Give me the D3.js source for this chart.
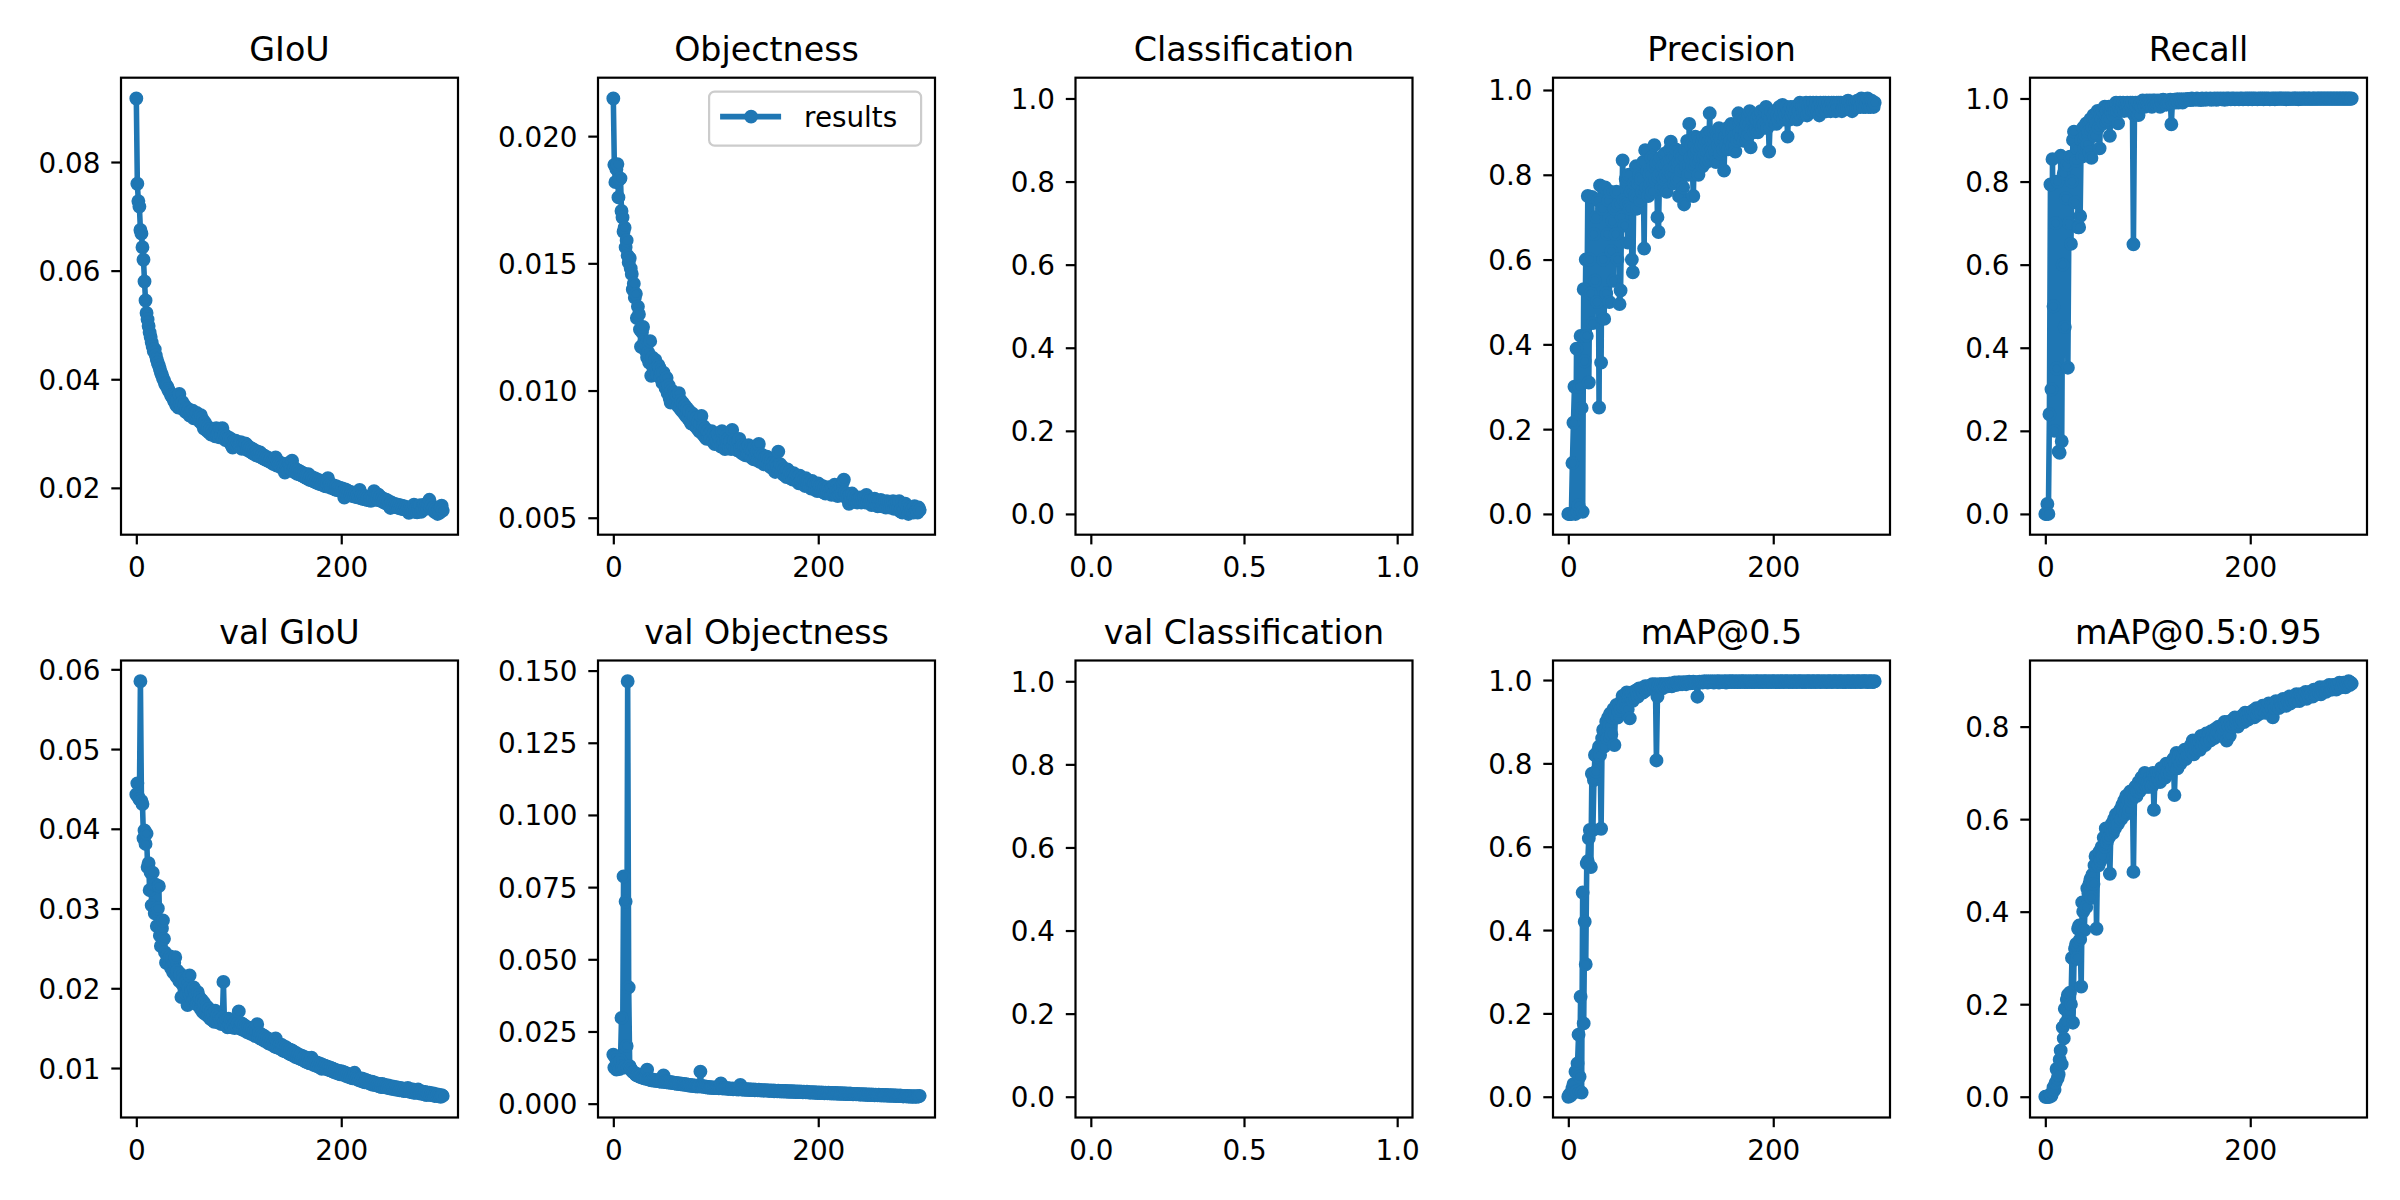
<!DOCTYPE html>
<html>
<head>
<meta charset="utf-8">
<script src="https://cdn.jsdelivr.net/npm/d3@7"></script>
<style>
  body { margin: 0; background: #fff; }
  text { font-family: "DejaVu Sans", sans-serif; }
</style>
</head>
<body>
<svg id="chart" width="2400" height="1200"></svg>
<script>
'use strict';

// panel titles, row by row
const titles = ['GIoU', 'Objectness', 'Classification', 'Precision', 'Recall',
    'val GIoU', 'val Objectness', 'val Classification', 'mAP@0.5', 'mAP@0.5:0.95'];

// tick labels
const epochTicks = [0, 200];
const emptyTicks = [0, 0.5, 1.0];
const giouTicks = [0.02, 0.04, 0.06, 0.08];
const objTicks = [0.005, 0.010, 0.015, 0.020];
const unitTicks = [0, 0.2, 0.4, 0.6, 0.8, 1.0];
const valGiouTicks = [0.01, 0.02, 0.03, 0.04, 0.05, 0.06];
const valObjTicks = [0, 0.025, 0.05, 0.075, 0.1, 0.125, 0.15];
const map95Ticks = [0, 0.2, 0.4, 0.6, 0.8];

// series, one value per epoch (0..299)
const giou = [
0.0917,0.0760,0.0728,0.0718,0.0675,0.0668,0.0643,0.0620,0.0580,0.0545,
0.0522,0.0510,0.0498,0.0486,0.0478,0.0468,0.0460,0.0452,0.0455,0.0444,
0.0436,0.0430,0.0425,0.0419,0.0412,0.0408,0.0402,0.0398,0.0392,0.0389,
0.0387,0.0382,0.0378,0.0375,0.0370,0.0368,0.0364,0.0360,0.0357,0.0352,
0.0362,0.0348,0.0373,0.0355,0.0350,0.0358,0.0344,0.0352,0.0340,0.0346,
0.0338,0.0345,0.0333,0.0340,0.0334,0.0342,0.0328,0.0336,0.0330,0.0338,
0.0326,0.0331,0.0322,0.0334,0.0318,0.0325,0.0309,0.0320,0.0314,0.0305,
0.0312,0.0302,0.0308,0.0298,0.0306,0.0300,0.0302,0.0295,0.0310,0.0297,
0.0301,0.0293,0.0309,0.0296,0.0310,0.0292,0.0298,0.0288,0.0295,0.0290,
0.0286,0.0292,0.0281,0.0289,0.0274,0.0285,0.0280,0.0287,0.0278,0.0283,
0.0279,0.0276,0.0284,0.0272,0.0280,0.0275,0.0282,0.0281,0.0270,0.0277,
0.0268,0.0274,0.0266,0.0272,0.0263,0.0270,0.0264,0.0260,0.0267,0.0262,
0.0258,0.0265,0.0256,0.0261,0.0254,0.0259,0.0252,0.0257,0.0250,0.0255,
0.0249,0.0253,0.0246,0.0251,0.0244,0.0250,0.0256,0.0241,0.0248,0.0243,
0.0247,0.0238,0.0245,0.0240,0.0236,0.0228,0.0243,0.0237,0.0232,0.0246,
0.0241,0.0235,0.0250,0.0231,0.0237,0.0228,0.0234,0.0226,0.0232,0.0225,
0.0230,0.0223,0.0228,0.0221,0.0226,0.0219,0.0224,0.0217,0.0225,0.0215,
0.0221,0.0214,0.0219,0.0212,0.0218,0.0210,0.0216,0.0209,0.0214,0.0207,
0.0213,0.0206,0.0211,0.0204,0.0210,0.0203,0.0209,0.0218,0.0202,0.0207,
0.0200,0.0206,0.0199,0.0204,0.0197,0.0203,0.0196,0.0201,0.0195,0.0200,
0.0194,0.0199,0.0192,0.0182,0.0197,0.0190,0.0195,0.0188,0.0193,0.0187,
0.0192,0.0185,0.0190,0.0184,0.0189,0.0183,0.0188,0.0182,0.0196,0.0181,
0.0186,0.0180,0.0185,0.0179,0.0184,0.0178,0.0183,0.0177,0.0182,0.0176,
0.0185,0.0179,0.0194,0.0178,0.0186,0.0180,0.0188,0.0177,0.0184,0.0176,
0.0181,0.0174,0.0179,0.0172,0.0178,0.0170,0.0176,0.0169,0.0163,0.0173,
0.0166,0.0171,0.0165,0.0170,0.0164,0.0169,0.0163,0.0168,0.0162,0.0167,
0.0161,0.0166,0.0160,0.0165,0.0159,0.0164,0.0154,0.0163,0.0158,0.0162,
0.0157,0.0169,0.0156,0.0163,0.0155,0.0162,0.0157,0.0168,0.0156,0.0161,
0.0160,0.0169,0.0163,0.0167,0.0162,0.0170,0.0178,0.0164,0.0168,0.0160,
0.0163,0.0156,0.0161,0.0155,0.0152,0.0160,0.0154,0.0165,0.0167,0.0158];

const objectness = [
0.02148,0.01887,0.01819,0.01870,0.01890,0.01759,0.01830,0.01834,0.01706,0.01680,
0.01624,0.01640,0.01563,0.01590,0.01530,0.01503,0.01520,0.01480,0.01458,0.01397,
0.01420,0.01365,0.01380,0.01285,0.01330,0.01300,0.01240,0.01172,0.01230,0.01250,
0.01190,0.01160,0.01185,0.01130,0.01150,0.01110,0.01194,0.01058,0.01130,0.01090,
0.01080,0.01120,0.01090,0.01060,0.01100,0.01090,0.01050,0.01070,0.01030,0.01070,
0.01040,0.01010,0.01050,0.00990,0.01020,0.00970,0.00953,0.01000,0.00980,0.00960,
0.00990,0.00950,0.00980,0.00940,0.00990,0.00930,0.00960,0.00920,0.00950,0.00910,
0.00940,0.00900,0.00930,0.00890,0.00920,0.00880,0.00870,0.00910,0.00870,0.00900,
0.00860,0.00890,0.00850,0.00880,0.00840,0.00870,0.00900,0.00830,0.00860,0.00820,
0.00850,0.00810,0.00840,0.00817,0.00830,0.00810,0.00840,0.00800,0.00830,0.00790,
0.00820,0.00800,0.00830,0.00790,0.00810,0.00780,0.00840,0.00790,0.00800,0.00770,
0.00820,0.00790,0.00810,0.00775,0.00800,0.00770,0.00845,0.00785,0.00805,0.00775,
0.00795,0.00765,0.00800,0.00810,0.00775,0.00755,0.00785,0.00750,0.00780,0.00745,
0.00775,0.00750,0.00785,0.00745,0.00770,0.00735,0.00765,0.00730,0.00780,0.00745,
0.00760,0.00725,0.00790,0.00720,0.00750,0.00730,0.00745,0.00710,0.00735,0.00720,
0.00740,0.00710,0.00730,0.00700,0.00725,0.00695,0.00715,0.00700,0.00680,0.00715,
0.00700,0.00760,0.00690,0.00710,0.00680,0.00700,0.00670,0.00690,0.00680,0.00660,
0.00690,0.00665,0.00680,0.00655,0.00670,0.00650,0.00675,0.00655,0.00665,0.00645,
0.00660,0.00635,0.00665,0.00645,0.00655,0.00635,0.00650,0.00625,0.00655,0.00635,
0.00645,0.00625,0.00640,0.00615,0.00645,0.00625,0.00635,0.00610,0.00630,0.00605,
0.00635,0.00610,0.00625,0.00605,0.00625,0.00600,0.00620,0.00595,0.00615,0.00600,
0.00620,0.00595,0.00610,0.00590,0.00615,0.00595,0.00630,0.00590,0.00605,0.00585,
0.00610,0.00590,0.00620,0.00595,0.00640,0.00650,0.00600,0.00580,0.00595,0.00575,
0.00555,0.00590,0.00575,0.00595,0.00570,0.00585,0.00565,0.00580,0.00560,0.00575,
0.00565,0.00580,0.00560,0.00575,0.00565,0.00580,0.00560,0.00590,0.00565,0.00575,
0.00560,0.00570,0.00550,0.00570,0.00555,0.00575,0.00550,0.00565,0.00545,0.00565,
0.00550,0.00570,0.00545,0.00565,0.00545,0.00560,0.00540,0.00565,0.00545,0.00560,
0.00540,0.00560,0.00545,0.00565,0.00535,0.00555,0.00540,0.00560,0.00535,0.00565,
0.00525,0.00535,0.00520,0.00540,0.00530,0.00555,0.00520,0.00535,0.00515,0.00530,
0.00540,0.00525,0.00535,0.00520,0.00545,0.00525,0.00530,0.00520,0.00540,0.00530];

const precision = [
0,0,0,0,0.12,0.215,0.30,0.0,0.39,0.005,
0.02,0.30,0.42,0.25,0.005,0.53,0.36,0.60,0.42,0.75,
0.31,0.60,0.52,0.748,0.45,0.66,0.55,0.70,0.50,0.74,
0.251,0.775,0.357,0.72,0.60,0.46,0.77,0.52,0.66,0.74,
0.50,0.76,0.62,0.69,0.55,0.72,0.66,0.76,0.60,0.73,
0.495,0.527,0.70,0.834,0.74,0.68,0.79,0.73,0.64,0.80,
0.72,0.76,0.60,0.57,0.78,0.75,0.82,0.72,0.78,0.80,
0.74,0.79,0.76,0.83,0.626,0.858,0.77,0.81,0.75,0.80,
0.78,0.84,0.76,0.82,0.87,0.79,0.83,0.70,0.665,0.80,
0.84,0.77,0.82,0.79,0.85,0.80,0.76,0.83,0.81,0.86,
0.878,0.80,0.84,0.78,0.82,0.86,0.79,0.83,0.75,0.85,
0.81,0.84,0.77,0.73,0.86,0.82,0.88,0.80,0.92,0.84,
0.87,0.82,0.75,0.85,0.89,0.83,0.86,0.80,0.88,0.84,
0.87,0.82,0.89,0.85,0.88,0.83,0.90,0.86,0.945,0.84,
0.88,0.85,0.90,0.86,0.83,0.89,0.87,0.91,0.85,0.88,
0.90,0.86,0.81,0.89,0.87,0.91,0.86,0.90,0.88,0.92,
0.87,0.91,0.89,0.855,0.92,0.88,0.945,0.90,0.93,0.89,
0.91,0.88,0.93,0.90,0.92,0.89,0.94,0.95,0.865,0.91,
0.93,0.90,0.94,0.91,0.93,0.90,0.94,0.92,0.95,0.91,
0.93,0.92,0.95,0.96,0.91,0.94,0.855,0.93,0.95,0.92,
0.94,0.93,0.95,0.92,0.94,0.93,0.96,0.94,0.95,0.965,
0.93,0.95,0.94,0.96,0.89,0.95,0.93,0.96,0.94,0.95,
0.96,0.94,0.95,0.93,0.96,0.95,0.97,0.94,0.96,0.95,
0.96,0.95,0.97,0.94,0.96,0.95,0.97,0.96,0.95,0.97,
0.95,0.96,0.97,0.95,0.96,0.94,0.97,0.96,0.95,0.97,
0.96,0.97,0.95,0.96,0.97,0.96,0.95,0.97,0.96,0.97,
0.96,0.95,0.97,0.96,0.97,0.96,0.97,0.95,0.96,0.97,
0.96,0.97,0.96,0.975,0.96,0.97,0.96,0.95,0.97,0.96,
0.97,0.96,0.975,0.96,0.97,0.96,0.98,0.97,0.96,0.975,
0.96,0.97,0.98,0.96,0.97,0.96,0.975,0.97,0.96,0.97];

const recall = [
0,0,0.024,0,0.24,0.793,0.30,0.854,0.50,0.20,
0.70,0.35,0.80,0.15,0.147,0.862,0.175,0.60,0.82,0.45,
0.76,0.84,0.352,0.70,0.86,0.65,0.80,0.90,0.92,0.75,
0.85,0.88,0.69,0.69,0.717,0.90,0.86,0.93,0.88,0.91,
0.94,0.89,0.92,0.87,0.95,0.857,0.93,0.96,0.91,0.95,
0.94,0.97,0.93,0.88,0.96,0.95,0.97,0.94,0.98,0.96,
0.97,0.95,0.98,0.91,0.97,0.98,0.96,0.98,0.97,0.99,
0.97,0.94,0.98,0.99,0.97,0.98,0.99,0.97,0.985,0.98,
0.99,0.98,0.97,0.99,0.98,0.99,0.649,0.96,0.99,0.98,
0.99,0.96,0.985,0.99,0.98,0.995,0.99,0.98,0.99,0.995,
0.99,0.985,0.995,0.99,0.98,0.995,0.99,0.995,0.985,0.99,
0.995,0.99,0.98,0.995,0.99,0.997,0.99,0.995,0.985,0.99,
0.995,0.99,0.997,0.938,0.99,0.995,0.997,0.99,0.995,0.998,
0.99,0.997,0.995,0.998,0.99,0.997,0.995,0.998,0.996,0.999,
0.997,0.999,0.996,1.0,0.998,0.997,0.999,0.998,1.0,0.997,
0.999,0.998,0.996,1.0,0.998,0.999,0.997,1.0,0.998,0.999,
0.998,1.0,0.997,0.999,0.998,1.0,0.999,0.997,1.0,0.998,
0.999,1.0,0.998,0.999,1.0,0.997,0.999,1.0,0.998,1.0,
0.999,0.998,1.0,0.999,1.0,0.998,0.999,1.0,0.999,0.998,
1.0,0.999,1.0,0.998,0.999,1.0,0.999,1.0,0.998,1.0,
0.999,1.0,0.998,1.0,0.999,1.0,0.999,0.998,1.0,0.999,
1.0,0.999,1.0,0.998,1.0,0.999,1.0,0.999,1.0,0.998,
0.999,1.0,0.999,1.0,0.998,1.0,0.999,1.0,0.999,1.0,
1.0,0.999,1.0,0.999,1.0,0.998,1.0,0.999,1.0,0.999,
0.999,1.0,0.999,1.0,1.0,0.999,1.0,0.998,1.0,0.999,
1.0,0.999,1.0,1.0,0.999,1.0,0.999,1.0,1.0,0.999,
0.999,1.0,1.0,0.999,1.0,0.999,1.0,1.0,0.999,1.0,
1.0,0.999,1.0,1.0,0.999,1.0,1.0,0.999,1.0,1.0,
0.999,1.0,1.0,0.999,1.0,1.0,0.999,1.0,1.0,0.999,
1.0,1.0,0.999,1.0,1.0,0.999,1.0,1.0,0.999,1.0];

const valGiou = [
0.0443,0.0457,0.0440,0.0437,0.0585,0.0435,0.0431,0.0388,0.0398,0.0381,
0.0394,0.0352,0.0357,0.0323,0.0345,0.0304,0.0345,0.0330,0.0294,0.0330,
0.0278,0.0300,0.0328,0.0266,0.0253,0.0275,0.0285,0.0262,0.0245,0.0232,
0.0241,0.0236,0.0230,0.0240,0.0225,0.0238,0.0220,0.0232,0.0239,0.0215,
0.0222,0.0212,0.0209,0.0218,0.0189,0.0205,0.0212,0.0198,0.0207,0.0192,
0.0179,0.0200,0.0216,0.0190,0.0196,0.0184,0.0201,0.0186,0.0193,0.0180,
0.0195,0.0178,0.0188,0.0174,0.0185,0.0170,0.0182,0.0168,0.0171,0.0177,
0.0165,0.0174,0.0162,0.0170,0.0160,0.0168,0.0158,0.0172,0.0161,0.0166,
0.0157,0.0164,0.0160,0.0155,0.0163,0.0208,0.0158,0.0154,0.0161,0.0151,
0.0162,0.0154,0.0160,0.0151,0.0159,0.0155,0.0150,0.0158,0.0152,0.0156,
0.0171,0.0150,0.0149,0.0156,0.0148,0.0154,0.0147,0.0152,0.0145,0.0151,
0.0144,0.0150,0.0143,0.0149,0.0142,0.0147,0.0140,0.0146,0.0155,0.0139,
0.0144,0.0137,0.0142,0.0136,0.0141,0.0134,0.0139,0.0133,0.0137,0.0131,
0.0136,0.0130,0.0135,0.0129,0.0133,0.0127,0.0137,0.0126,0.0131,0.0125,
0.0130,0.0124,0.0129,0.0122,0.0127,0.0121,0.0126,0.0120,0.0124,0.0118,
0.0123,0.0117,0.0122,0.0116,0.0120,0.0114,0.0119,0.0113,0.0117,0.0112,
0.0116,0.0111,0.0115,0.0110,0.0114,0.0108,0.0113,0.0107,0.0112,0.0106,
0.0110,0.0113,0.0108,0.0104,0.0108,0.0103,0.0107,0.0102,0.0106,0.0101,
0.0105,0.0099,0.0104,0.0100,0.0103,0.0099,0.0102,0.0098,0.0101,0.0097,
0.0100,0.0096,0.0099,0.0095,0.0098,0.0094,0.0097,0.0093,0.0096,0.0092,
0.0096,0.0092,0.0095,0.0091,0.0094,0.0090,0.0093,0.0089,0.0092,0.0088,
0.0091,0.0087,0.0090,0.0094,0.0089,0.0086,0.0088,0.0085,0.0087,0.0084,
0.0087,0.0083,0.0086,0.0082,0.0085,0.0082,0.0084,0.0081,0.0083,0.0080,
0.0083,0.0079,0.0082,0.0079,0.0081,0.0078,0.0080,0.0077,0.0080,0.0076,
0.0080,0.0076,0.0079,0.0076,0.0078,0.0075,0.0078,0.0075,0.0077,0.0074,
0.0077,0.0074,0.0076,0.0073,0.0076,0.0073,0.0075,0.0072,0.0075,0.0072,
0.0074,0.0071,0.0074,0.0071,0.0073,0.0075,0.0072,0.0070,0.0073,0.0070,
0.0073,0.0069,0.0072,0.0069,0.0071,0.0073,0.0070,0.0068,0.0071,0.0068,
0.0070,0.0067,0.0070,0.0066,0.0069,0.0067,0.0069,0.0066,0.0068,0.0066,
0.0068,0.0065,0.0067,0.0065,0.0067,0.0065,0.0066,0.0064,0.0066,0.0065];

const valObjectness = [
0.0170,0.0125,0.0160,0.0118,0.0140,0.0130,0.0120,0.0150,0.0297,0.0130,
0.0787,0.0125,0.0700,0.0200,0.1463,0.0403,0.0130,0.0120,0.0115,0.0110,
0.0108,0.0105,0.0100,0.0098,0.0102,0.0095,0.0093,0.0097,0.0090,0.0092,
0.0088,0.0090,0.0086,0.0118,0.0085,0.0083,0.0086,0.0081,0.0084,0.0080,
0.0082,0.0079,0.0081,0.0078,0.0080,0.0077,0.0079,0.0076,0.0078,0.0098,
0.0075,0.0077,0.0074,0.0076,0.0073,0.0075,0.0072,0.0074,0.0071,0.0073,
0.0070,0.0072,0.0069,0.0071,0.0068,0.0070,0.0067,0.0069,0.0066,0.0068,
0.0065,0.0067,0.0064,0.0066,0.0063,0.0065,0.0062,0.0064,0.0061,0.0063,
0.0060,0.0062,0.0059,0.0061,0.0060,0.0111,0.0059,0.0061,0.0058,0.0060,
0.0057,0.0059,0.0056,0.0058,0.0055,0.0057,0.0055,0.0056,0.0054,0.0056,
0.0055,0.0054,0.0056,0.0053,0.0055,0.0070,0.0054,0.0052,0.0054,0.0053,
0.0052,0.0054,0.0051,0.0053,0.0052,0.0051,0.0053,0.0050,0.0052,0.0051,
0.0050,0.0052,0.0049,0.0051,0.0065,0.0050,0.0049,0.0051,0.0048,0.0050,
0.0049,0.0048,0.0050,0.0047,0.0049,0.0048,0.0047,0.0049,0.0046,0.0048,
0.0047,0.0046,0.0048,0.0046,0.0047,0.0045,0.0047,0.0046,0.0045,0.0047,
0.0045,0.0046,0.0044,0.0046,0.0045,0.0044,0.0046,0.0043,0.0045,0.0044,
0.0043,0.0045,0.0043,0.0044,0.0042,0.0044,0.0043,0.0042,0.0044,0.0042,
0.0043,0.0041,0.0043,0.0042,0.0041,0.0043,0.0041,0.0042,0.0040,0.0042,
0.0041,0.0040,0.0042,0.0040,0.0041,0.0039,0.0041,0.0040,0.0039,0.0041,
0.0039,0.0040,0.0038,0.0040,0.0039,0.0038,0.0040,0.0038,0.0039,0.0037,
0.0039,0.0038,0.0037,0.0039,0.0037,0.0038,0.0036,0.0038,0.0037,0.0036,
0.0038,0.0036,0.0037,0.0035,0.0037,0.0036,0.0035,0.0037,0.0035,0.0036,
0.0034,0.0036,0.0035,0.0034,0.0036,0.0034,0.0035,0.0033,0.0035,0.0034,
0.0033,0.0035,0.0033,0.0034,0.0032,0.0034,0.0033,0.0032,0.0034,0.0032,
0.0033,0.0031,0.0033,0.0032,0.0031,0.0033,0.0031,0.0032,0.0030,0.0032,
0.0031,0.0030,0.0032,0.0030,0.0031,0.0029,0.0031,0.0030,0.0029,0.0031,
0.0029,0.0030,0.0028,0.0030,0.0029,0.0028,0.0030,0.0028,0.0029,0.0027,
0.0029,0.0028,0.0027,0.0029,0.0027,0.0028,0.0026,0.0028,0.0027,0.0026,
0.0028,0.0026,0.0027,0.0025,0.0027,0.0026,0.0025,0.0027,0.0025,0.0026,
0.0024,0.0026,0.0025,0.0024,0.0026,0.0025,0.0024,0.0026,0.0025,0.0027];

const map50 = [
0,0.005,0.002,0.01,0.02,0.03,0.012,0.06,0.012,0.08,
0.149,0.048,0.24,0.01,0.49,0.176,0.42,0.318,0.56,0.565,
0.62,0.64,0.551,0.775,0.64,0.76,0.82,0.78,0.816,0.83,
0.84,0.82,0.643,0.86,0.88,0.84,0.88,0.90,0.86,0.91,
0.89,0.92,0.87,0.91,0.93,0.844,0.92,0.94,0.91,0.926,
0.94,0.93,0.95,0.962,0.94,0.96,0.95,0.97,0.93,0.96,
0.908,0.96,0.97,0.95,0.97,0.96,0.975,0.97,0.96,0.98,
0.97,0.98,0.975,0.97,0.98,0.985,0.975,0.98,0.985,0.98,
0.985,0.98,0.99,0.985,0.98,0.99,0.807,0.96,0.985,0.99,
0.985,0.99,0.98,0.99,0.985,0.99,0.99,0.985,0.99,0.992,
0.99,0.985,0.992,0.99,0.994,0.988,0.993,0.99,0.995,0.99,
0.993,0.99,0.995,0.992,0.994,0.99,0.995,0.993,0.996,0.992,
0.995,0.993,0.996,0.994,0.995,0.992,0.96,0.994,0.996,0.995,
0.996,0.994,0.995,0.997,0.995,0.996,0.994,0.997,0.995,0.996,
0.995,0.997,0.994,0.996,0.995,0.997,0.996,0.994,0.997,0.995,
0.996,0.995,0.997,0.996,0.994,0.997,0.995,0.996,0.997,0.995,
0.997,0.996,0.995,0.997,0.996,0.995,0.997,0.996,0.995,0.997,
0.996,0.997,0.995,0.996,0.997,0.995,0.996,0.997,0.996,0.995,
0.997,0.996,0.995,0.997,0.996,0.997,0.995,0.996,0.997,0.996,
0.995,0.997,0.996,0.997,0.995,0.996,0.997,0.996,0.995,0.997,
0.996,0.997,0.995,0.996,0.997,0.996,0.995,0.997,0.996,0.997,
0.995,0.996,0.997,0.996,0.997,0.995,0.996,0.997,0.996,0.995,
0.997,0.996,0.997,0.995,0.996,0.997,0.996,0.997,0.995,0.996,
0.997,0.996,0.995,0.997,0.996,0.997,0.996,0.995,0.997,0.996,
0.997,0.995,0.996,0.997,0.996,0.997,0.995,0.996,0.997,0.996,
0.996,0.997,0.995,0.996,0.997,0.996,0.997,0.995,0.996,0.997,
0.996,0.997,0.996,0.995,0.997,0.996,0.997,0.996,0.995,0.997,
0.996,0.995,0.997,0.996,0.997,0.996,0.995,0.997,0.996,0.997,
0.995,0.996,0.997,0.996,0.997,0.995,0.996,0.997,0.996,0.997,
0.996,0.997,0.995,0.996,0.997,0.996,0.997,0.995,0.996,0.997];

const map5095 = [
0,0,0,0,0,0.005,0.002,0.01,0.02,0.015,
0.03,0.06,0.04,0.048,0.08,0.10,0.07,0.15,0.126,0.19,
0.16,0.21,0.22,0.184,0.225,0.20,0.30,0.16,0.296,0.32,
0.33,0.30,0.363,0.37,0.34,0.238,0.42,0.40,0.36,0.42,
0.41,0.45,0.44,0.46,0.47,0.43,0.48,0.46,0.50,0.52,
0.363,0.52,0.50,0.53,0.51,0.54,0.52,0.56,0.54,0.58,
0.55,0.57,0.56,0.482,0.578,0.59,0.57,0.60,0.58,0.61,
0.60,0.59,0.61,0.62,0.60,0.63,0.62,0.64,0.61,0.65,
0.63,0.64,0.62,0.66,0.64,0.66,0.486,0.65,0.67,0.65,
0.66,0.68,0.66,0.67,0.69,0.67,0.68,0.70,0.68,0.67,
0.68,0.67,0.69,0.68,0.67,0.70,0.62,0.69,0.68,0.70,
0.69,0.70,0.68,0.71,0.69,0.70,0.71,0.69,0.72,0.70,
0.71,0.72,0.70,0.72,0.71,0.73,0.652,0.72,0.743,0.71,
0.73,0.74,0.72,0.74,0.73,0.74,0.75,0.73,0.75,0.74,
0.75,0.74,0.76,0.75,0.77,0.74,0.76,0.75,0.77,0.76,
0.77,0.75,0.78,0.76,0.77,0.78,0.76,0.785,0.77,0.78,
0.785,0.77,0.79,0.78,0.79,0.775,0.795,0.78,0.79,0.80,
0.79,0.80,0.78,0.80,0.795,0.81,0.80,0.77,0.81,0.80,
0.78,0.81,0.80,0.815,0.805,0.82,0.81,0.815,0.80,0.82,
0.81,0.82,0.815,0.825,0.81,0.83,0.82,0.825,0.815,0.83,
0.82,0.83,0.825,0.835,0.82,0.83,0.84,0.825,0.835,0.83,
0.84,0.83,0.845,0.835,0.84,0.83,0.845,0.84,0.85,0.835,
0.845,0.84,0.82,0.85,0.84,0.855,0.845,0.85,0.84,0.855,
0.85,0.845,0.86,0.85,0.855,0.845,0.86,0.855,0.865,0.85,
0.86,0.855,0.865,0.86,0.855,0.87,0.86,0.865,0.855,0.87,
0.865,0.86,0.87,0.865,0.875,0.86,0.87,0.865,0.875,0.87,
0.875,0.865,0.88,0.87,0.875,0.87,0.88,0.875,0.885,0.87,
0.88,0.875,0.885,0.88,0.875,0.885,0.88,0.89,0.88,0.885,
0.88,0.89,0.885,0.89,0.88,0.89,0.885,0.895,0.89,0.885,
0.89,0.895,0.89,0.885,0.895,0.89,0.898,0.89,0.895,0.893];

const epochs = d3.range(giou.length);

const panels = [
    {values: giou, yTicks: giouTicks, fmt: '.2f'},
    {values: objectness, yTicks: objTicks, fmt: '.3f', legend: true},
    {values: null, yTicks: unitTicks, fmt: '.1f'},
    {values: precision, yTicks: unitTicks, fmt: '.1f'},
    {values: recall, yTicks: unitTicks, fmt: '.1f'},
    {values: valGiou, yTicks: valGiouTicks, fmt: '.2f'},
    {values: valObjectness, yTicks: valObjTicks, fmt: '.3f'},
    {values: null, yTicks: unitTicks, fmt: '.1f'},
    {values: map50, yTicks: unitTicks, fmt: '.1f'},
    {values: map5095, yTicks: map95Ticks, fmt: '.1f'}
];

// layout (px, figure is 2400x1200)
const colLeft = [121, 598, 1075.5, 1553, 2030];
const rowTop = [77.7, 660.5];
const axW = 337, axH = 457;
const blue = '#1f77b4';
const tickFont = 27.8, titleFont = 33.3;

const svg = d3.select('#chart');
svg.append('rect').attr('width', 2400).attr('height', 1200).attr('fill', '#fff');

function padded(ext) {
    const r = ext[1] - ext[0];
    return [ext[0] - 0.05 * r, ext[1] + 0.05 * r];
}

panels.forEach((p, i) => {
    const left = colLeft[i % 5], top = rowTop[Math.floor(i / 5)];
    const g = svg.append('g').attr('transform', `translate(${left},${top})`);

    let x, y, xTicks, xFmt;
    if (p.values) {
        x = d3.scaleLinear().domain(padded([0, epochs.length - 1])).range([0, axW]);
        y = d3.scaleLinear().domain(padded(d3.extent(p.values))).range([axH, 0]);
        xTicks = epochTicks;
        xFmt = d3.format('d');
    } else {
        x = d3.scaleLinear().domain([-0.05, 1.05]).range([0, axW]);
        y = d3.scaleLinear().domain([-0.05, 1.05]).range([axH, 0]);
        xTicks = emptyTicks;
        xFmt = d3.format('.1f');
    }

    // data
    if (p.values) {
        const clipId = 'clip' + i;
        g.append('clipPath').attr('id', clipId)
          .append('rect').attr('width', axW).attr('height', axH);
        const plot = g.append('g').attr('clip-path', `url(#${clipId})`);
        const line = d3.line()
            .x((d, k) => x(epochs[k]))
            .y(d => y(d));
        plot.append('path')
            .datum(p.values)
            .attr('d', line)
            .attr('fill', 'none')
            .attr('stroke', blue)
            .attr('stroke-width', 5.56)
            .attr('stroke-linejoin', 'round');
        plot.selectAll('circle')
          .data(p.values)
          .join('circle')
            .attr('cx', (d, k) => x(epochs[k]))
            .attr('cy', d => y(d))
            .attr('r', 5.56)
            .attr('fill', blue)
            .attr('stroke', blue)
            .attr('stroke-width', 2.78);
    }

    // x axis
    const xAxis = g.append('g').attr('transform', `translate(0,${axH})`)
        .call(d3.axisBottom(x).tickValues(xTicks).tickFormat(xFmt).tickSizeOuter(0).tickSize(9.7).tickPadding(9.7));
    xAxis.select('.domain').remove();
    xAxis.selectAll('line').attr('stroke', '#000').attr('stroke-width', 2.2);
    xAxis.selectAll('text').attr('font-size', tickFont).attr('fill', '#000')
        .attr('dy', null).attr('y', 42.5);

    // y axis
    const yAxis = g.append('g')
        .call(d3.axisLeft(y).tickValues(p.yTicks).tickFormat(d3.format(p.fmt)).tickSizeOuter(0).tickSize(9.7).tickPadding(9.7));
    yAxis.select('.domain').remove();
    yAxis.selectAll('line').attr('stroke', '#000').attr('stroke-width', 2.2);
    yAxis.selectAll('text').attr('font-size', tickFont).attr('fill', '#000')
        .attr('dy', null).attr('y', 10).attr('x', -20.5);

    // frame
    g.append('rect')
        .attr('width', axW).attr('height', axH)
        .attr('fill', 'none').attr('stroke', '#000').attr('stroke-width', 2.2);

    // title
    g.append('text')
        .attr('x', axW / 2).attr('y', -16.5)
        .attr('text-anchor', 'middle')
        .attr('font-size', titleFont)
        .attr('fill', '#000')
        .text(titles[i]);

    if (p.legend) {
        const lg = g.append('g').attr('transform', `translate(${axW - 13.9 - 212},${13.9})`);
        lg.append('rect')
            .attr('width', 212).attr('height', 54).attr('rx', 5.5)
            .attr('fill', '#fff').attr('fill-opacity', 0.8)
            .attr('stroke', '#cccccc').attr('stroke-width', 2.2);
        lg.append('line')
            .attr('x1', 11).attr('x2', 72).attr('y1', 25).attr('y2', 25)
            .attr('stroke', blue).attr('stroke-width', 5.56);
        lg.append('circle')
            .attr('cx', 42).attr('cy', 25).attr('r', 5.56)
            .attr('fill', blue).attr('stroke', blue).attr('stroke-width', 2.78);
        lg.append('text')
            .attr('x', 95).attr('y', 35)
            .attr('font-size', tickFont).attr('fill', '#000')
            .text('results');
    }
});
</script>
</body>
</html>
